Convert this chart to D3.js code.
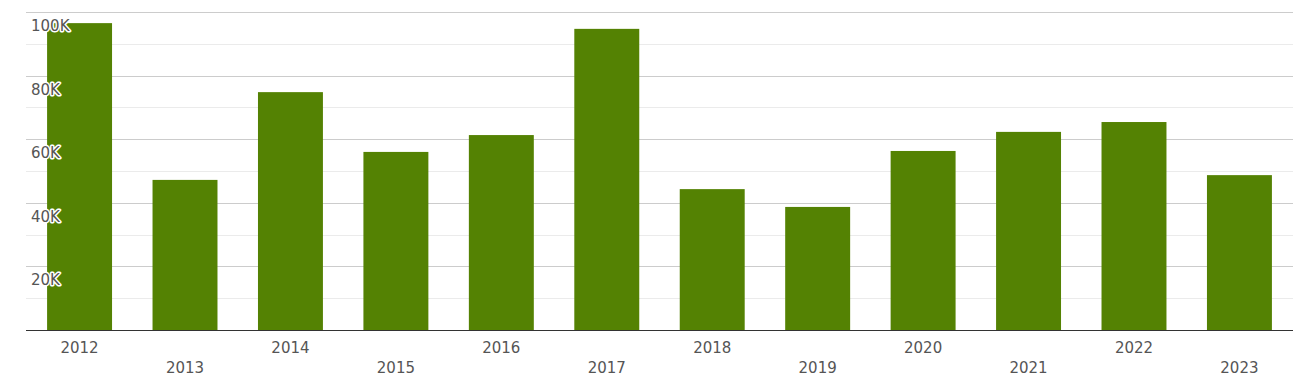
<!DOCTYPE html>
<html>
<head>
<meta charset="utf-8">
<script src="https://cdn.jsdelivr.net/npm/d3@7"></script>
<style>
  body { margin: 0; background: #fff; }
  text { font-family: "DejaVu Sans", sans-serif; }
</style>
</head>
<body>
<div id="chart"></div>
<script>
// data
const years = ['2012', '2013', '2014', '2015', '2016', '2017', '2018', '2019', '2020', '2021', '2022', '2023'];
const values = [96500, 47200, 74800, 56000, 61300, 94700, 44300, 38700, 56300, 62300, 65400, 48700];
const yTicks = [20000, 40000, 60000, 80000, 100000];
const yLabels = ['20K', '40K', '60K', '80K', '100K'];
const minorTicks = [10000, 30000, 50000, 70000, 90000];

const W = 1293, H = 384;
const margin = { top: 12, right: 0, bottom: 54, left: 26 };

const svg = d3.select('#chart')
  .append('svg')
  .attr('width', W)
  .attr('height', H);

const x = d3.scaleBand()
  .domain(years)
  .range([margin.left, W - margin.right])
  .paddingInner(0.384)
  .paddingOuter(0.2);

const y = d3.scaleLinear()
  .domain([0, 100000])
  .range([H - margin.bottom, margin.top]);

// minor grid
svg.append('g')
  .selectAll('line')
  .data(minorTicks)
  .enter()
  .append('line')
  .attr('x1', margin.left)
  .attr('x2', W - margin.right)
  .attr('y1', d => Math.round(y(d)) + 0.5)
  .attr('y2', d => Math.round(y(d)) + 0.5)
  .attr('stroke', '#ebebeb');

// major grid
svg.append('g')
  .selectAll('line')
  .data(yTicks)
  .enter()
  .append('line')
  .attr('x1', margin.left)
  .attr('x2', W - margin.right)
  .attr('y1', d => Math.round(y(d)) + 0.5)
  .attr('y2', d => Math.round(y(d)) + 0.5)
  .attr('stroke', '#cccccc');

// bars
svg.selectAll('.bar')
  .data(values)
  .enter()
  .append('rect')
  .attr('class', 'bar')
  .attr('x', (d, i) => x(years[i]))
  .attr('y', d => y(d))
  .attr('width', x.bandwidth())
  .attr('height', d => y(0) - y(d))
  .attr('fill', '#548203');

// baseline
svg.append('line')
  .attr('x1', margin.left)
  .attr('x2', W - margin.right)
  .attr('y1', Math.round(y(0)) + 0.5)
  .attr('y2', Math.round(y(0)) + 0.5)
  .attr('stroke', '#333');

// y labels with white halo
svg.append('g')
  .selectAll('text')
  .data(yTicks)
  .enter()
  .append('text')
  .attr('x', 31)
  .attr('y', d => y(d) + 19)
  .attr('font-size', 15)
  .attr('fill', '#555')
  .attr('stroke', '#fff')
  .attr('stroke-width', 3)
  .attr('paint-order', 'stroke')
  .attr('stroke-linejoin', 'round')
  .text((d, i) => yLabels[i]);

// x labels, staggered
svg.append('g')
  .selectAll('text')
  .data(years)
  .enter()
  .append('text')
  .attr('x', d => x(d) + x.bandwidth() / 2)
  .attr('y', (d, i) => i % 2 === 0 ? 353 : 373)
  .attr('text-anchor', 'middle')
  .attr('font-size', 15)
  .attr('fill', '#555')
  .text(d => d);
</script>
</body>
</html>
